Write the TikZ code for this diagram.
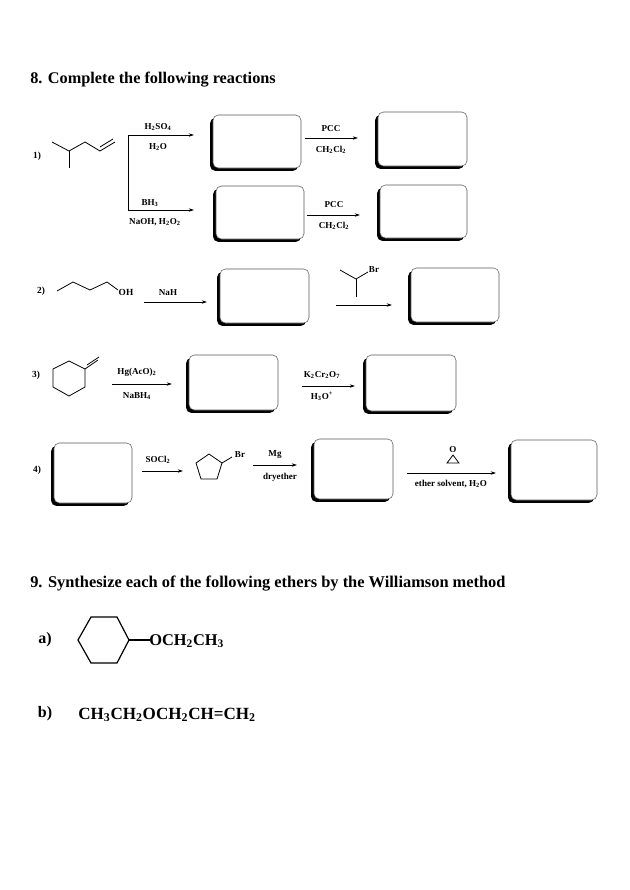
\documentclass[tikz,border=0pt]{standalone}
\usepackage{fontspec}
\setmainfont{Liberation Serif}
\usetikzlibrary{arrows.meta,calc}
\begin{document}
\begin{tikzpicture}[x=0.75pt,y=-0.75pt,
  font=\bfseries,
  bond/.style={line width=0.6pt},
  rx/.style={line width=0.5pt,-{Stealth[length=4pt,width=2.5pt]}},
  lab/.style={font=\bfseries\fontsize{6.8}{7}\selectfont,inner sep=0pt},
  num/.style={font=\bfseries\fontsize{7}{8}\selectfont,inner sep=0pt}]
\useasboundingbox (0,0) rectangle (630,890);
\fill[white] (0,0) rectangle (630,890);
\newcommand{\ansbox}[5]{%
  \fill[black,rounded corners=4pt] ([xshift=-2.2pt,yshift=-2.2pt]#2) rectangle ([xshift=-2.2pt,yshift=-2.2pt]#3);
  \filldraw[fill=white,draw=gray!70!black,line width=0.4pt,rounded corners=4pt] (#2) rectangle (#3);
  \coordinate (#1) at ($(#2)!0.5!(#3)$);}
% titles
\node[anchor=west,inner sep=0pt,font=\bfseries\fontsize{12.2}{14}\selectfont] (t8) at (30,80) {8. Complete the following reactions};
\node[anchor=west,inner sep=0pt,font=\bfseries\fontsize{12.3}{14}\selectfont] (t9) at (30,584) {9. Synthesize each of the following ethers by the Williamson method};
% ---- 1)
\node[num] (n1) at (37,156) {1)};
\draw[bond] (52,142)--(69,151)--(85,142)--(100,151)--(115,142);
\draw[bond] (100,147)--(113,139);
\draw[bond] (69,151)--(69,168);
\draw[bond] (128,135)--(128,210);
\coordinate (b1) at (128,135); \coordinate (b2) at (128,210);
\coordinate (a1) at (194,135); \coordinate (a2) at (194,210);
\draw[rx] (b1)--(a1); \draw[rx] (b2)--(a2);
\node[lab] (r1) at (158,127) {H\textsubscript{2}SO\textsubscript{4}};
\node[lab] (r2) at (158,147) {H\textsubscript{2}O};
\node[lab] (r3) at (150,203) {BH\textsubscript{3}};
\node[lab] (r4) at (155,222) {NaOH, H\textsubscript{2}O\textsubscript{2}};
\path (213,115) coordinate (p1a) (301,168) coordinate (p1b)
      (216,186) coordinate (p2a) (304,239) coordinate (p2b)
      (378,112) coordinate (p3a) (467,166) coordinate (p3b)
      (380,185) coordinate (p4a) (467,238) coordinate (p4b);
\ansbox{B1}{p1a}{p1b}{}{}\ansbox{B2}{p2a}{p2b}{}{}\ansbox{B3}{p3a}{p3b}{}{}\ansbox{B4}{p4a}{p4b}{}{}
\coordinate (c1) at (305,138); \coordinate (c2) at (358,138);
\draw[rx] (c1)--(c2);
\node[lab] (r5) at (331,129) {PCC};
\node[lab] (r6) at (331,150) {CH\textsubscript{2}Cl\textsubscript{2}};
\coordinate (c3) at (307,215); \coordinate (c4) at (360,215);
\draw[rx] (c3)--(c4);
\node[lab] (r7) at (334,205) {PCC};
\node[lab] (r8) at (334,226) {CH\textsubscript{2}Cl\textsubscript{2}};
% ---- 2)
\node[num] (n2) at (41,291) {2)};
\draw[bond] (57,291)--(73,282)--(90,290)--(107,282)--(118,290);
\node[lab,font=\bfseries\fontsize{7}{8}\selectfont] (oh) at (126,292) {OH};
\node[lab] (r9) at (168,293) {NaH};
\coordinate (d1) at (144,302); \coordinate (d2) at (207,302);
\draw[rx] (d1)--(d2);
\path (220,269) coordinate (q1a) (309,323) coordinate (q1b)
      (411,268) coordinate (q2a) (499,322) coordinate (q2b);
\ansbox{B5}{q1a}{q1b}{}{}\ansbox{B6}{q2a}{q2b}{}{}
\draw[bond] (340,270)--(356,279)--(368,272);
\draw[bond] (356,279)--(356,297);
\node[lab] (br1) at (374,270) {Br};
\coordinate (d3) at (336,305); \coordinate (d4) at (392,305);
\draw[rx] (d3)--(d4);
% ---- 3)
\node[num] (n3) at (36,375) {3)};
\draw[bond] (53,369)--(69,361)--(85,369)--(85,387)--(69,396)--(53,387)--cycle;
\draw[bond] (85,369)--(98,360);
\draw[bond] (87,365)--(99,357);
\coordinate (e1) at (112,384); \coordinate (e2) at (172,384);
\draw[rx] (e1)--(e2);
\node[lab] (r10) at (137,372) {Hg(AcO)\textsubscript{2}};
\node[lab] (r11) at (137,396) {NaBH\textsubscript{4}};
\path (189,355) coordinate (s1a) (278,410) coordinate (s1b)
      (366,355) coordinate (s2a) (456,411) coordinate (s2b);
\ansbox{B7}{s1a}{s1b}{}{}\ansbox{B8}{s2a}{s2b}{}{}
\coordinate (e3) at (302,386); \coordinate (e4) at (355,386);
\draw[rx] (e3)--(e4);
\node[lab] (r12) at (322,375) {K\textsubscript{2}Cr\textsubscript{2}O\textsubscript{7}};
\node[lab] (r13) at (322,396) {H\textsubscript{3}O\textsuperscript{+}};
% ---- 4)
\node[num] (n4) at (37,470) {4)};
\path (54,443) coordinate (u1a) (132,503) coordinate (u1b)
      (314,439) coordinate (u2a) (393,499) coordinate (u2b)
      (511,440) coordinate (u3a) (597,500) coordinate (u3b);
\ansbox{B9}{u1a}{u1b}{}{}\ansbox{B10}{u2a}{u2b}{}{}\ansbox{B11}{u3a}{u3b}{}{}
\coordinate (f1) at (142,471); \coordinate (f2) at (183,471);
\draw[rx] (f1)--(f2);
\node[lab] (r14) at (158,460) {SOCl\textsubscript{2}};
\draw[bond] (222,463)--(209,454)--(196,463)--(201,479)--(217,479)--cycle;
\draw[bond] (222,463)--(232,457);
\node[lab] (br2) at (240,455) {Br};
\coordinate (f3) at (253,465); \coordinate (f4) at (297,465);
\draw[rx] (f3)--(f4);
\node[lab] (r15) at (275,455) {Mg};
\node[lab] (r16) at (280,477) {dryether};
\draw[bond] (447,463)--(459,463)--(453,455)--cycle;
\node[lab] (ox) at (453,450) {O};
\coordinate (f5) at (407,473); \coordinate (f6) at (496,473);
\draw[rx] (f5)--(f6);
\node[lab] (r17) at (451,484) {ether solvent, H\textsubscript{2}O};
% ---- 9
\node[inner sep=0pt,font=\bfseries\fontsize{12}{14}\selectfont] (la) at (45,640) {a)};
\draw[line width=0.9pt] (78,640)--(91,617)--(117,617)--(129,640)--(117,663)--(91,663)--cycle;
\draw[line width=0.9pt] (129,640)--(150,640);
\node[anchor=west,inner sep=0pt,font=\bfseries\fontsize{12.3}{14}\selectfont] (et1) at (149,641) {OCH\textsubscript{2}CH\textsubscript{3}};
\node[inner sep=0pt,font=\bfseries\fontsize{12}{14}\selectfont] (lb) at (45,714) {b)};
\node[anchor=west,inner sep=0pt,font=\bfseries\fontsize{12.8}{14}\selectfont] (et2) at (78,715) {CH\textsubscript{3}CH\textsubscript{2}OCH\textsubscript{2}CH=CH\textsubscript{2}};
\end{tikzpicture}
\end{document}
